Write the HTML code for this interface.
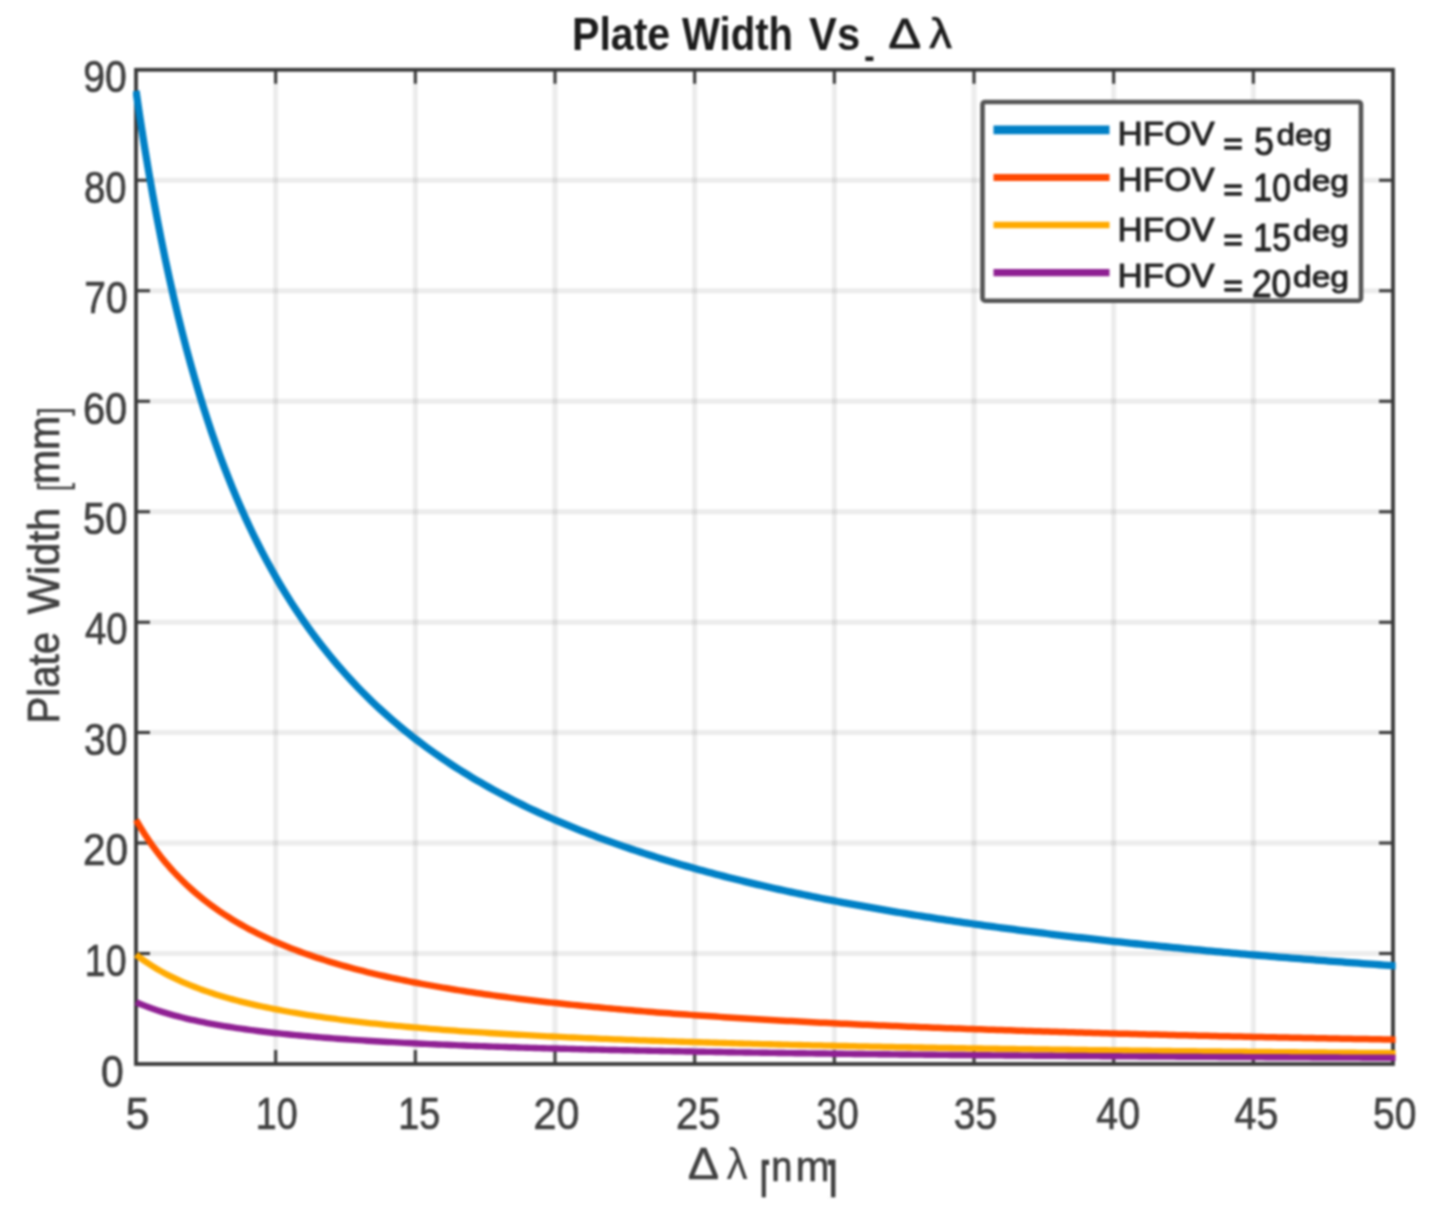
<!DOCTYPE html>
<html lang="en"><head><meta charset="utf-8"><title>Plate Width Vs. Δλ</title>
<style>html,body{margin:0;padding:0;background:#fff}body{width:1437px;height:1216px;overflow:hidden}svg{display:block}</style>
</head><body>
<svg width="1437" height="1216" viewBox="0 0 1437 1216" font-family='"Liberation Sans", sans-serif'>
<defs><filter id="soft" x="-2%" y="-2%" width="104%" height="104%" color-interpolation-filters="sRGB"><feGaussianBlur stdDeviation="0.8"/></filter><clipPath id="ax"><rect x="133.0" y="67.8" width="1262.6" height="998.2"/></clipPath><clipPath id="lg"><rect x="980" y="99" width="383" height="203.2"/></clipPath><clipPath id="xl"><rect x="600" y="1135" width="400" height="62.3"/></clipPath></defs>
<rect width="1437" height="1216" fill="#fff"/>
<g filter="url(#soft)">
<path d="M275.67 69.8V1064.0M415.33 69.8V1064.0M555.00 69.8V1064.0M694.67 69.8V1064.0M834.33 69.8V1064.0M974.00 69.8V1064.0M1113.67 69.8V1064.0M1253.33 69.8V1064.0" stroke="#262626" stroke-opacity="0.085" stroke-width="5" fill="none"/>
<path d="M136.0 953.53H1393.0M136.0 843.07H1393.0M136.0 732.60H1393.0M136.0 622.13H1393.0M136.0 511.67H1393.0M136.0 401.20H1393.0M136.0 290.73H1393.0M136.0 180.27H1393.0" stroke="#262626" stroke-opacity="0.085" stroke-width="5" fill="none"/>
<rect x="136.0" y="69.8" width="1257.0" height="994.2" fill="none" stroke="#3a3a3a" stroke-width="3.8"/>
<path d="M275.67 1064.0v-14M275.67 69.8v14M415.33 1064.0v-14M415.33 69.8v14M555.00 1064.0v-14M555.00 69.8v14M694.67 1064.0v-14M694.67 69.8v14M834.33 1064.0v-14M834.33 69.8v14M974.00 1064.0v-14M974.00 69.8v14M1113.67 1064.0v-14M1113.67 69.8v14M1253.33 1064.0v-14M1253.33 69.8v14M136.0 953.53h14M1393.0 953.53h-14M136.0 843.07h14M1393.0 843.07h-14M136.0 732.60h14M1393.0 732.60h-14M136.0 622.13h14M1393.0 622.13h-14M136.0 511.67h14M1393.0 511.67h-14M136.0 401.20h14M1393.0 401.20h-14M136.0 290.73h14M1393.0 290.73h-14M136.0 180.27h14M1393.0 180.27h-14" stroke="#3a3a3a" stroke-width="3" fill="none"/>
<g clip-path="url(#ax)" fill="none" stroke-linejoin="round" stroke-linecap="butt">
<polyline points="136.00,90.79 140.20,119.18 144.40,145.95 148.60,171.25 152.80,195.19 157.01,217.88 161.21,239.41 165.41,259.87 169.61,279.34 173.81,297.89 178.01,315.58 182.21,332.47 186.41,348.62 190.62,364.06 194.82,378.85 199.02,393.03 203.22,406.63 207.42,419.70 211.62,432.25 215.82,444.32 220.02,455.94 224.22,467.12 228.43,477.91 232.63,488.31 236.83,498.35 241.03,508.04 245.23,517.41 249.43,526.46 253.63,535.22 257.83,543.70 262.04,551.91 266.24,559.86 270.44,567.57 274.64,575.05 278.84,582.30 283.04,589.34 287.24,596.18 291.44,602.83 295.64,609.28 299.85,615.56 304.05,621.67 308.25,627.61 312.45,633.40 316.65,639.03 320.85,644.52 325.05,649.87 329.25,655.08 333.46,660.16 337.66,665.12 341.86,669.95 346.06,674.67 350.26,679.28 354.46,683.78 358.66,688.18 362.86,692.47 367.06,696.67 371.27,700.77 375.47,704.79 379.67,708.71 383.87,712.55 388.07,716.31 392.27,719.99 396.47,723.59 400.67,727.11 404.88,730.56 409.08,733.95 413.28,737.26 417.48,740.51 421.68,743.69 425.88,746.82 430.08,749.88 434.28,752.88 438.48,755.83 442.69,758.72 446.89,761.55 451.09,764.34 455.29,767.07 459.49,769.75 463.69,772.39 467.89,774.98 472.09,777.52 476.30,780.02 480.50,782.47 484.70,784.88 488.90,787.25 493.10,789.59 497.30,791.88 501.50,794.13 505.70,796.35 509.90,798.53 514.11,800.67 518.31,802.78 522.51,804.86 526.71,806.91 530.91,808.92 535.11,810.90 539.31,812.85 543.51,814.77 547.71,816.66 551.92,818.52 556.12,820.35 560.32,822.16 564.52,823.94 568.72,825.69 572.92,827.42 577.12,829.13 581.32,830.80 585.53,832.46 589.73,834.09 593.93,835.70 598.13,837.29 602.33,838.85 606.53,840.39 610.73,841.91 614.93,843.41 619.13,844.90 623.34,846.36 627.54,847.80 631.74,849.22 635.94,850.62 640.14,852.01 644.34,853.38 648.54,854.72 652.74,856.06 656.95,857.37 661.15,858.67 665.35,859.95 669.55,861.22 673.75,862.47 677.95,863.71 682.15,864.93 686.35,866.13 690.55,867.32 694.76,868.50 698.96,869.66 703.16,870.81 707.36,871.94 711.56,873.07 715.76,874.17 719.96,875.27 724.16,876.35 728.37,877.42 732.57,878.48 736.77,879.53 740.97,880.56 745.17,881.59 749.37,882.60 753.57,883.60 757.77,884.59 761.97,885.57 766.18,886.53 770.38,887.49 774.58,888.44 778.78,889.37 782.98,890.30 787.18,891.22 791.38,892.13 795.58,893.02 799.79,893.91 803.99,894.79 808.19,895.66 812.39,896.52 816.59,897.37 820.79,898.22 824.99,899.05 829.19,899.88 833.39,900.70 837.60,901.51 841.80,902.31 846.00,903.10 850.20,903.89 854.40,904.67 858.60,905.44 862.80,906.20 867.00,906.96 871.21,907.71 875.41,908.45 879.61,909.18 883.81,909.91 888.01,910.63 892.21,911.34 896.41,912.05 900.61,912.75 904.81,913.45 909.02,914.14 913.22,914.82 917.42,915.49 921.62,916.16 925.82,916.82 930.02,917.48 934.22,918.13 938.42,918.78 942.63,919.42 946.83,920.05 951.03,920.68 955.23,921.30 959.43,921.92 963.63,922.53 967.83,923.14 972.03,923.74 976.23,924.34 980.44,924.93 984.64,925.52 988.84,926.10 993.04,926.68 997.24,927.25 1001.44,927.81 1005.64,928.38 1009.84,928.93 1014.05,929.49 1018.25,930.04 1022.45,930.58 1026.65,931.12 1030.85,931.65 1035.05,932.19 1039.25,932.71 1043.45,933.23 1047.65,933.75 1051.86,934.27 1056.06,934.78 1060.26,935.28 1064.46,935.78 1068.66,936.28 1072.86,936.78 1077.06,937.27 1081.26,937.75 1085.47,938.24 1089.67,938.71 1093.87,939.19 1098.07,939.66 1102.27,940.13 1106.47,940.59 1110.67,941.06 1114.87,941.51 1119.07,941.97 1123.28,942.42 1127.48,942.87 1131.68,943.31 1135.88,943.75 1140.08,944.19 1144.28,944.62 1148.48,945.05 1152.68,945.48 1156.89,945.91 1161.09,946.33 1165.29,946.75 1169.49,947.16 1173.69,947.58 1177.89,947.99 1182.09,948.39 1186.29,948.80 1190.49,949.20 1194.70,949.60 1198.90,949.99 1203.10,950.39 1207.30,950.78 1211.50,951.17 1215.70,951.55 1219.90,951.93 1224.10,952.31 1228.31,952.69 1232.51,953.06 1236.71,953.44 1240.91,953.81 1245.11,954.17 1249.31,954.54 1253.51,954.90 1257.71,955.26 1261.91,955.62 1266.12,955.97 1270.32,956.32 1274.52,956.67 1278.72,957.02 1282.92,957.37 1287.12,957.71 1291.32,958.05 1295.52,958.39 1299.73,958.73 1303.93,959.06 1308.13,959.40 1312.33,959.73 1316.53,960.05 1320.73,960.38 1324.93,960.70 1329.13,961.03 1333.33,961.35 1337.54,961.66 1341.74,961.98 1345.94,962.29 1350.14,962.61 1354.34,962.92 1358.54,963.23 1362.74,963.53 1366.94,963.84 1371.14,964.14 1375.35,964.44 1379.55,964.74 1383.75,965.04 1387.95,965.33 1392.15,965.63 1396.35,965.92" stroke="#0080c6" stroke-width="7.3"/>
<polyline points="136.00,819.87 140.20,827.00 144.40,833.72 148.60,840.08 152.80,846.09 157.01,851.79 161.21,857.19 165.41,862.33 169.61,867.22 173.81,871.88 178.01,876.32 182.21,880.56 186.41,884.62 190.62,888.50 194.82,892.21 199.02,895.77 203.22,899.19 207.42,902.47 211.62,905.62 215.82,908.65 220.02,911.57 224.22,914.38 228.43,917.09 232.63,919.70 236.83,922.22 241.03,924.66 245.23,927.01 249.43,929.28 253.63,931.48 257.83,933.61 262.04,935.67 266.24,937.67 270.44,939.61 274.64,941.48 278.84,943.31 283.04,945.07 287.24,946.79 291.44,948.46 295.64,950.08 299.85,951.66 304.05,953.19 308.25,954.68 312.45,956.14 316.65,957.55 320.85,958.93 325.05,960.27 329.25,961.58 333.46,962.86 337.66,964.10 341.86,965.32 346.06,966.50 350.26,967.66 354.46,968.79 358.66,969.89 362.86,970.97 367.06,972.03 371.27,973.06 375.47,974.07 379.67,975.05 383.87,976.02 388.07,976.96 392.27,977.88 396.47,978.79 400.67,979.67 404.88,980.54 409.08,981.39 413.28,982.22 417.48,983.04 421.68,983.84 425.88,984.62 430.08,985.39 434.28,986.14 438.48,986.88 442.69,987.61 446.89,988.32 451.09,989.02 455.29,989.71 459.49,990.38 463.69,991.04 467.89,991.69 472.09,992.33 476.30,992.96 480.50,993.58 484.70,994.18 488.90,994.78 493.10,995.36 497.30,995.94 501.50,996.50 505.70,997.06 509.90,997.61 514.11,998.15 518.31,998.68 522.51,999.20 526.71,999.71 530.91,1000.22 535.11,1000.71 539.31,1001.20 543.51,1001.69 547.71,1002.16 551.92,1002.63 556.12,1003.09 560.32,1003.54 564.52,1003.99 568.72,1004.43 572.92,1004.86 577.12,1005.29 581.32,1005.71 585.53,1006.13 589.73,1006.54 593.93,1006.94 598.13,1007.34 602.33,1007.73 606.53,1008.12 610.73,1008.50 614.93,1008.88 619.13,1009.25 623.34,1009.62 627.54,1009.98 631.74,1010.34 635.94,1010.69 640.14,1011.04 644.34,1011.38 648.54,1011.72 652.74,1012.06 656.95,1012.39 661.15,1012.71 665.35,1013.03 669.55,1013.35 673.75,1013.67 677.95,1013.98 682.15,1014.28 686.35,1014.59 690.55,1014.88 694.76,1015.18 698.96,1015.47 703.16,1015.76 707.36,1016.05 711.56,1016.33 715.76,1016.61 719.96,1016.88 724.16,1017.15 728.37,1017.42 732.57,1017.69 736.77,1017.95 740.97,1018.21 745.17,1018.47 749.37,1018.72 753.57,1018.97 757.77,1019.22 761.97,1019.47 766.18,1019.71 770.38,1019.95 774.58,1020.19 778.78,1020.42 782.98,1020.66 787.18,1020.89 791.38,1021.11 795.58,1021.34 799.79,1021.56 803.99,1021.78 808.19,1022.00 812.39,1022.22 816.59,1022.43 820.79,1022.64 824.99,1022.85 829.19,1023.06 833.39,1023.27 837.60,1023.47 841.80,1023.67 846.00,1023.87 850.20,1024.07 854.40,1024.26 858.60,1024.46 862.80,1024.65 867.00,1024.84 871.21,1025.03 875.41,1025.21 879.61,1025.40 883.81,1025.58 888.01,1025.76 892.21,1025.94 896.41,1026.12 900.61,1026.29 904.81,1026.47 909.02,1026.64 913.22,1026.81 917.42,1026.98 921.62,1027.15 925.82,1027.32 930.02,1027.48 934.22,1027.64 938.42,1027.81 942.63,1027.97 946.83,1028.13 951.03,1028.28 955.23,1028.44 959.43,1028.60 963.63,1028.75 967.83,1028.90 972.03,1029.05 976.23,1029.20 980.44,1029.35 984.64,1029.50 988.84,1029.65 993.04,1029.79 997.24,1029.93 1001.44,1030.08 1005.64,1030.22 1009.84,1030.36 1014.05,1030.50 1018.25,1030.63 1022.45,1030.77 1026.65,1030.91 1030.85,1031.04 1035.05,1031.17 1039.25,1031.31 1043.45,1031.44 1047.65,1031.57 1051.86,1031.70 1056.06,1031.82 1060.26,1031.95 1064.46,1032.08 1068.66,1032.20 1072.86,1032.33 1077.06,1032.45 1081.26,1032.57 1085.47,1032.69 1089.67,1032.81 1093.87,1032.93 1098.07,1033.05 1102.27,1033.17 1106.47,1033.29 1110.67,1033.40 1114.87,1033.52 1119.07,1033.63 1123.28,1033.74 1127.48,1033.86 1131.68,1033.97 1135.88,1034.08 1140.08,1034.19 1144.28,1034.30 1148.48,1034.41 1152.68,1034.51 1156.89,1034.62 1161.09,1034.73 1165.29,1034.83 1169.49,1034.94 1173.69,1035.04 1177.89,1035.14 1182.09,1035.24 1186.29,1035.35 1190.49,1035.45 1194.70,1035.55 1198.90,1035.65 1203.10,1035.75 1207.30,1035.84 1211.50,1035.94 1215.70,1036.04 1219.90,1036.13 1224.10,1036.23 1228.31,1036.32 1232.51,1036.42 1236.71,1036.51 1240.91,1036.60 1245.11,1036.70 1249.31,1036.79 1253.51,1036.88 1257.71,1036.97 1261.91,1037.06 1266.12,1037.15 1270.32,1037.24 1274.52,1037.32 1278.72,1037.41 1282.92,1037.50 1287.12,1037.58 1291.32,1037.67 1295.52,1037.76 1299.73,1037.84 1303.93,1037.92 1308.13,1038.01 1312.33,1038.09 1316.53,1038.17 1320.73,1038.25 1324.93,1038.34 1329.13,1038.42 1333.33,1038.50 1337.54,1038.58 1341.74,1038.66 1345.94,1038.74 1350.14,1038.81 1354.34,1038.89 1358.54,1038.97 1362.74,1039.05 1366.94,1039.12 1371.14,1039.20 1375.35,1039.27 1379.55,1039.35 1383.75,1039.42 1387.95,1039.50 1392.15,1039.57 1396.35,1039.65" stroke="#ff4800" stroke-width="6.5"/>
<polyline points="136.00,954.64 140.20,957.83 144.40,960.84 148.60,963.69 152.80,966.38 157.01,968.94 161.21,971.36 165.41,973.66 169.61,975.85 173.81,977.94 178.01,979.93 182.21,981.83 186.41,983.64 190.62,985.38 194.82,987.05 199.02,988.64 203.22,990.17 207.42,991.64 211.62,993.05 215.82,994.41 220.02,995.72 224.22,996.98 228.43,998.19 232.63,999.36 236.83,1000.49 241.03,1001.58 245.23,1002.63 249.43,1003.65 253.63,1004.64 257.83,1005.59 262.04,1006.51 266.24,1007.41 270.44,1008.28 274.64,1009.12 278.84,1009.93 283.04,1010.73 287.24,1011.49 291.44,1012.24 295.64,1012.97 299.85,1013.68 304.05,1014.36 308.25,1015.03 312.45,1015.68 316.65,1016.32 320.85,1016.93 325.05,1017.53 329.25,1018.12 333.46,1018.69 337.66,1019.25 341.86,1019.79 346.06,1020.33 350.26,1020.84 354.46,1021.35 358.66,1021.84 362.86,1022.33 367.06,1022.80 371.27,1023.26 375.47,1023.71 379.67,1024.15 383.87,1024.59 388.07,1025.01 392.27,1025.42 396.47,1025.83 400.67,1026.22 404.88,1026.61 409.08,1026.99 413.28,1027.37 417.48,1027.73 421.68,1028.09 425.88,1028.44 430.08,1028.79 434.28,1029.12 438.48,1029.45 442.69,1029.78 446.89,1030.10 451.09,1030.41 455.29,1030.72 459.49,1031.02 463.69,1031.32 467.89,1031.61 472.09,1031.90 476.30,1032.18 480.50,1032.45 484.70,1032.72 488.90,1032.99 493.10,1033.25 497.30,1033.51 501.50,1033.76 505.70,1034.01 509.90,1034.26 514.11,1034.50 518.31,1034.74 522.51,1034.97 526.71,1035.20 530.91,1035.43 535.11,1035.65 539.31,1035.87 543.51,1036.09 547.71,1036.30 551.92,1036.51 556.12,1036.71 560.32,1036.92 564.52,1037.12 568.72,1037.31 572.92,1037.51 577.12,1037.70 581.32,1037.89 585.53,1038.08 589.73,1038.26 593.93,1038.44 598.13,1038.62 602.33,1038.79 606.53,1038.97 610.73,1039.14 614.93,1039.31 619.13,1039.47 623.34,1039.64 627.54,1039.80 631.74,1039.96 635.94,1040.12 640.14,1040.28 644.34,1040.43 648.54,1040.58 652.74,1040.73 656.95,1040.88 661.15,1041.02 665.35,1041.17 669.55,1041.31 673.75,1041.45 677.95,1041.59 682.15,1041.73 686.35,1041.86 690.55,1042.00 694.76,1042.13 698.96,1042.26 703.16,1042.39 707.36,1042.52 711.56,1042.64 715.76,1042.77 719.96,1042.89 724.16,1043.01 728.37,1043.13 732.57,1043.25 736.77,1043.37 740.97,1043.49 745.17,1043.60 749.37,1043.72 753.57,1043.83 757.77,1043.94 761.97,1044.05 766.18,1044.16 770.38,1044.27 774.58,1044.37 778.78,1044.48 782.98,1044.58 787.18,1044.69 791.38,1044.79 795.58,1044.89 799.79,1044.99 803.99,1045.09 808.19,1045.19 812.39,1045.28 816.59,1045.38 820.79,1045.47 824.99,1045.57 829.19,1045.66 833.39,1045.75 837.60,1045.84 841.80,1045.93 846.00,1046.02 850.20,1046.11 854.40,1046.20 858.60,1046.29 862.80,1046.37 867.00,1046.46 871.21,1046.54 875.41,1046.62 879.61,1046.71 883.81,1046.79 888.01,1046.87 892.21,1046.95 896.41,1047.03 900.61,1047.11 904.81,1047.19 909.02,1047.26 913.22,1047.34 917.42,1047.42 921.62,1047.49 925.82,1047.57 930.02,1047.64 934.22,1047.71 938.42,1047.79 942.63,1047.86 946.83,1047.93 951.03,1048.00 955.23,1048.07 959.43,1048.14 963.63,1048.21 967.83,1048.28 972.03,1048.35 976.23,1048.41 980.44,1048.48 984.64,1048.55 988.84,1048.61 993.04,1048.68 997.24,1048.74 1001.44,1048.80 1005.64,1048.87 1009.84,1048.93 1014.05,1048.99 1018.25,1049.05 1022.45,1049.11 1026.65,1049.18 1030.85,1049.24 1035.05,1049.30 1039.25,1049.35 1043.45,1049.41 1047.65,1049.47 1051.86,1049.53 1056.06,1049.59 1060.26,1049.64 1064.46,1049.70 1068.66,1049.76 1072.86,1049.81 1077.06,1049.87 1081.26,1049.92 1085.47,1049.98 1089.67,1050.03 1093.87,1050.08 1098.07,1050.14 1102.27,1050.19 1106.47,1050.24 1110.67,1050.29 1114.87,1050.34 1119.07,1050.40 1123.28,1050.45 1127.48,1050.50 1131.68,1050.55 1135.88,1050.60 1140.08,1050.65 1144.28,1050.69 1148.48,1050.74 1152.68,1050.79 1156.89,1050.84 1161.09,1050.89 1165.29,1050.93 1169.49,1050.98 1173.69,1051.03 1177.89,1051.07 1182.09,1051.12 1186.29,1051.16 1190.49,1051.21 1194.70,1051.25 1198.90,1051.30 1203.10,1051.34 1207.30,1051.39 1211.50,1051.43 1215.70,1051.47 1219.90,1051.52 1224.10,1051.56 1228.31,1051.60 1232.51,1051.64 1236.71,1051.69 1240.91,1051.73 1245.11,1051.77 1249.31,1051.81 1253.51,1051.85 1257.71,1051.89 1261.91,1051.93 1266.12,1051.97 1270.32,1052.01 1274.52,1052.05 1278.72,1052.09 1282.92,1052.13 1287.12,1052.17 1291.32,1052.21 1295.52,1052.24 1299.73,1052.28 1303.93,1052.32 1308.13,1052.36 1312.33,1052.39 1316.53,1052.43 1320.73,1052.47 1324.93,1052.50 1329.13,1052.54 1333.33,1052.58 1337.54,1052.61 1341.74,1052.65 1345.94,1052.68 1350.14,1052.72 1354.34,1052.75 1358.54,1052.79 1362.74,1052.82 1366.94,1052.86 1371.14,1052.89 1375.35,1052.92 1379.55,1052.96 1383.75,1052.99 1387.95,1053.02 1392.15,1053.06 1396.35,1053.09" stroke="#ffaa00" stroke-width="6.3"/>
<polyline points="136.00,1002.14 140.20,1003.95 144.40,1005.65 148.60,1007.26 152.80,1008.78 157.01,1010.23 161.21,1011.60 165.41,1012.90 169.61,1014.14 173.81,1015.32 178.01,1016.44 182.21,1017.52 186.41,1018.55 190.62,1019.53 194.82,1020.47 199.02,1021.37 203.22,1022.24 207.42,1023.07 211.62,1023.87 215.82,1024.64 220.02,1025.38 224.22,1026.09 228.43,1026.77 232.63,1027.44 236.83,1028.07 241.03,1028.69 245.23,1029.29 249.43,1029.86 253.63,1030.42 257.83,1030.96 262.04,1031.48 266.24,1031.99 270.44,1032.48 274.64,1032.96 278.84,1033.42 283.04,1033.86 287.24,1034.30 291.44,1034.72 295.64,1035.13 299.85,1035.53 304.05,1035.92 308.25,1036.30 312.45,1036.67 316.65,1037.03 320.85,1037.38 325.05,1037.72 329.25,1038.05 333.46,1038.37 337.66,1038.69 341.86,1038.99 346.06,1039.29 350.26,1039.59 354.46,1039.87 358.66,1040.15 362.86,1040.43 367.06,1040.69 371.27,1040.96 375.47,1041.21 379.67,1041.46 383.87,1041.71 388.07,1041.94 392.27,1042.18 396.47,1042.41 400.67,1042.63 404.88,1042.85 409.08,1043.07 413.28,1043.28 417.48,1043.48 421.68,1043.69 425.88,1043.89 430.08,1044.08 434.28,1044.27 438.48,1044.46 442.69,1044.64 446.89,1044.82 451.09,1045.00 455.29,1045.17 459.49,1045.35 463.69,1045.51 467.89,1045.68 472.09,1045.84 476.30,1046.00 480.50,1046.15 484.70,1046.31 488.90,1046.46 493.10,1046.61 497.30,1046.75 501.50,1046.90 505.70,1047.04 509.90,1047.18 514.11,1047.31 518.31,1047.45 522.51,1047.58 526.71,1047.71 530.91,1047.84 535.11,1047.96 539.31,1048.09 543.51,1048.21 547.71,1048.33 551.92,1048.45 556.12,1048.57 560.32,1048.68 564.52,1048.79 568.72,1048.91 572.92,1049.02 577.12,1049.12 581.32,1049.23 585.53,1049.34 589.73,1049.44 593.93,1049.54 598.13,1049.64 602.33,1049.74 606.53,1049.84 610.73,1049.94 614.93,1050.03 619.13,1050.13 623.34,1050.22 627.54,1050.31 631.74,1050.40 635.94,1050.49 640.14,1050.58 644.34,1050.67 648.54,1050.75 652.74,1050.84 656.95,1050.92 661.15,1051.00 665.35,1051.09 669.55,1051.17 673.75,1051.25 677.95,1051.32 682.15,1051.40 686.35,1051.48 690.55,1051.55 694.76,1051.63 698.96,1051.70 703.16,1051.78 707.36,1051.85 711.56,1051.92 715.76,1051.99 719.96,1052.06 724.16,1052.13 728.37,1052.20 732.57,1052.26 736.77,1052.33 740.97,1052.40 745.17,1052.46 749.37,1052.53 753.57,1052.59 757.77,1052.65 761.97,1052.72 766.18,1052.78 770.38,1052.84 774.58,1052.90 778.78,1052.96 782.98,1053.02 787.18,1053.08 791.38,1053.13 795.58,1053.19 799.79,1053.25 803.99,1053.30 808.19,1053.36 812.39,1053.41 816.59,1053.47 820.79,1053.52 824.99,1053.57 829.19,1053.63 833.39,1053.68 837.60,1053.73 841.80,1053.78 846.00,1053.83 850.20,1053.88 854.40,1053.93 858.60,1053.98 862.80,1054.03 867.00,1054.08 871.21,1054.12 875.41,1054.17 879.61,1054.22 883.81,1054.26 888.01,1054.31 892.21,1054.36 896.41,1054.40 900.61,1054.45 904.81,1054.49 909.02,1054.53 913.22,1054.58 917.42,1054.62 921.62,1054.66 925.82,1054.70 930.02,1054.75 934.22,1054.79 938.42,1054.83 942.63,1054.87 946.83,1054.91 951.03,1054.95 955.23,1054.99 959.43,1055.03 963.63,1055.07 967.83,1055.11 972.03,1055.14 976.23,1055.18 980.44,1055.22 984.64,1055.26 988.84,1055.29 993.04,1055.33 997.24,1055.37 1001.44,1055.40 1005.64,1055.44 1009.84,1055.48 1014.05,1055.51 1018.25,1055.55 1022.45,1055.58 1026.65,1055.61 1030.85,1055.65 1035.05,1055.68 1039.25,1055.72 1043.45,1055.75 1047.65,1055.78 1051.86,1055.81 1056.06,1055.85 1060.26,1055.88 1064.46,1055.91 1068.66,1055.94 1072.86,1055.97 1077.06,1056.01 1081.26,1056.04 1085.47,1056.07 1089.67,1056.10 1093.87,1056.13 1098.07,1056.16 1102.27,1056.19 1106.47,1056.22 1110.67,1056.25 1114.87,1056.28 1119.07,1056.30 1123.28,1056.33 1127.48,1056.36 1131.68,1056.39 1135.88,1056.42 1140.08,1056.45 1144.28,1056.47 1148.48,1056.50 1152.68,1056.53 1156.89,1056.56 1161.09,1056.58 1165.29,1056.61 1169.49,1056.64 1173.69,1056.66 1177.89,1056.69 1182.09,1056.71 1186.29,1056.74 1190.49,1056.76 1194.70,1056.79 1198.90,1056.82 1203.10,1056.84 1207.30,1056.87 1211.50,1056.89 1215.70,1056.91 1219.90,1056.94 1224.10,1056.96 1228.31,1056.99 1232.51,1057.01 1236.71,1057.03 1240.91,1057.06 1245.11,1057.08 1249.31,1057.10 1253.51,1057.13 1257.71,1057.15 1261.91,1057.17 1266.12,1057.20 1270.32,1057.22 1274.52,1057.24 1278.72,1057.26 1282.92,1057.28 1287.12,1057.31 1291.32,1057.33 1295.52,1057.35 1299.73,1057.37 1303.93,1057.39 1308.13,1057.41 1312.33,1057.43 1316.53,1057.46 1320.73,1057.48 1324.93,1057.50 1329.13,1057.52 1333.33,1057.54 1337.54,1057.56 1341.74,1057.58 1345.94,1057.60 1350.14,1057.62 1354.34,1057.64 1358.54,1057.66 1362.74,1057.68 1366.94,1057.70 1371.14,1057.72 1375.35,1057.73 1379.55,1057.75 1383.75,1057.77 1387.95,1057.79 1392.15,1057.81 1396.35,1057.83" stroke="#8f2093" stroke-width="6.4"/>
</g>
<rect x="982.5" y="102.0" width="378.5" height="198.7" fill="#fff"/>
<g clip-path="url(#lg)">
<path d="M993.5 129.8H1109.5" stroke="#0080c6" stroke-width="8.8" fill="none"/>
<text x="1117.50" y="144.80" font-size="33" fill="#242424" stroke="#242424" stroke-width="1.0" stroke-linejoin="round" textLength="97.21" lengthAdjust="spacingAndGlyphs">HFOV</text>
<text x="1223.43" y="154.20" font-size="30" fill="#242424" stroke="#242424" stroke-width="1.6" stroke-linejoin="round" textLength="19.13" lengthAdjust="spacingAndGlyphs">=</text>
<text x="1254.34" y="155.10" font-size="38" fill="#242424" stroke="#242424" stroke-width="1.0" stroke-linejoin="round" textLength="19.66" lengthAdjust="spacingAndGlyphs">5</text>
<text x="1276.49" y="144.50" font-size="30" fill="#242424" stroke="#242424" stroke-width="1.0" stroke-linejoin="round" textLength="55.42" lengthAdjust="spacingAndGlyphs">deg</text>
<path d="M993.5 177.4H1109.5" stroke="#ff4800" stroke-width="7.0" fill="none"/>
<text x="1117.50" y="191.00" font-size="33" fill="#242424" stroke="#242424" stroke-width="1.0" stroke-linejoin="round" textLength="97.21" lengthAdjust="spacingAndGlyphs">HFOV</text>
<text x="1223.43" y="200.40" font-size="30" fill="#242424" stroke="#242424" stroke-width="1.6" stroke-linejoin="round" textLength="19.13" lengthAdjust="spacingAndGlyphs">=</text>
<text x="1253.32" y="201.30" font-size="38" fill="#242424" stroke="#242424" stroke-width="1.0" stroke-linejoin="round" textLength="37.68" lengthAdjust="spacingAndGlyphs">10</text>
<text x="1293.00" y="190.70" font-size="30" fill="#242424" stroke="#242424" stroke-width="1.0" stroke-linejoin="round" textLength="56.04" lengthAdjust="spacingAndGlyphs">deg</text>
<path d="M993.5 225.0H1109.5" stroke="#ffaa00" stroke-width="6.6" fill="none"/>
<text x="1117.50" y="240.80" font-size="33" fill="#242424" stroke="#242424" stroke-width="1.0" stroke-linejoin="round" textLength="97.21" lengthAdjust="spacingAndGlyphs">HFOV</text>
<text x="1223.43" y="250.20" font-size="30" fill="#242424" stroke="#242424" stroke-width="1.6" stroke-linejoin="round" textLength="19.13" lengthAdjust="spacingAndGlyphs">=</text>
<text x="1253.31" y="251.10" font-size="38" fill="#242424" stroke="#242424" stroke-width="1.0" stroke-linejoin="round" textLength="37.91" lengthAdjust="spacingAndGlyphs">15</text>
<text x="1293.00" y="240.50" font-size="30" fill="#242424" stroke="#242424" stroke-width="1.0" stroke-linejoin="round" textLength="56.04" lengthAdjust="spacingAndGlyphs">deg</text>
<path d="M993.5 272.6H1109.5" stroke="#8f2093" stroke-width="7.2" fill="none"/>
<text x="1117.50" y="287.00" font-size="33" fill="#242424" stroke="#242424" stroke-width="1.0" stroke-linejoin="round" textLength="97.21" lengthAdjust="spacingAndGlyphs">HFOV</text>
<text x="1223.43" y="296.40" font-size="30" fill="#242424" stroke="#242424" stroke-width="1.6" stroke-linejoin="round" textLength="19.13" lengthAdjust="spacingAndGlyphs">=</text>
<text x="1252.00" y="297.30" font-size="38" fill="#242424" stroke="#242424" stroke-width="1.0" stroke-linejoin="round" textLength="39.22" lengthAdjust="spacingAndGlyphs">20</text>
<text x="1293.00" y="286.70" font-size="30" fill="#242424" stroke="#242424" stroke-width="1.0" stroke-linejoin="round" textLength="56.04" lengthAdjust="spacingAndGlyphs">deg</text>
</g>
<rect x="982.5" y="102.0" width="378.5" height="198.7" fill="none" stroke="#545454" stroke-width="4.6" rx="2.5"/>
<text x="101.10" y="1087.10" font-size="44" fill="#404040" stroke="#404040" stroke-width="0.7" textLength="22.72" lengthAdjust="spacingAndGlyphs">0</text>
<text x="84.84" y="975.83" font-size="44" fill="#404040" stroke="#404040" stroke-width="0.7" textLength="41.73" lengthAdjust="spacingAndGlyphs">10</text>
<text x="82.89" y="865.37" font-size="44" fill="#404040" stroke="#404040" stroke-width="0.7" textLength="45.12" lengthAdjust="spacingAndGlyphs">20</text>
<text x="84.12" y="754.90" font-size="44" fill="#404040" stroke="#404040" stroke-width="0.7" textLength="43.46" lengthAdjust="spacingAndGlyphs">30</text>
<text x="84.88" y="644.43" font-size="44" fill="#404040" stroke="#404040" stroke-width="0.7" textLength="42.70" lengthAdjust="spacingAndGlyphs">40</text>
<text x="83.12" y="533.97" font-size="44" fill="#404040" stroke="#404040" stroke-width="0.7" textLength="44.47" lengthAdjust="spacingAndGlyphs">50</text>
<text x="82.91" y="423.50" font-size="44" fill="#404040" stroke="#404040" stroke-width="0.7" textLength="44.29" lengthAdjust="spacingAndGlyphs">60</text>
<text x="84.34" y="313.03" font-size="44" fill="#404040" stroke="#404040" stroke-width="0.7" textLength="43.27" lengthAdjust="spacingAndGlyphs">70</text>
<text x="84.04" y="202.57" font-size="44" fill="#404040" stroke="#404040" stroke-width="0.7" textLength="42.55" lengthAdjust="spacingAndGlyphs">80</text>
<text x="83.32" y="92.10" font-size="44" fill="#404040" stroke="#404040" stroke-width="0.7" textLength="43.48" lengthAdjust="spacingAndGlyphs">90</text>
<text x="125.70" y="1129.30" font-size="44" fill="#404040" stroke="#404040" stroke-width="0.7" textLength="23.56" lengthAdjust="spacingAndGlyphs">5</text>
<text x="255.84" y="1129.30" font-size="44" fill="#404040" stroke="#404040" stroke-width="0.7" textLength="41.89" lengthAdjust="spacingAndGlyphs">10</text>
<text x="398.26" y="1129.30" font-size="44" fill="#404040" stroke="#404040" stroke-width="0.7" textLength="41.96" lengthAdjust="spacingAndGlyphs">15</text>
<text x="533.48" y="1129.30" font-size="44" fill="#404040" stroke="#404040" stroke-width="0.7" textLength="45.86" lengthAdjust="spacingAndGlyphs">20</text>
<text x="675.98" y="1129.30" font-size="44" fill="#404040" stroke="#404040" stroke-width="0.7" textLength="44.57" lengthAdjust="spacingAndGlyphs">25</text>
<text x="816.15" y="1129.30" font-size="44" fill="#404040" stroke="#404040" stroke-width="0.7" textLength="42.48" lengthAdjust="spacingAndGlyphs">30</text>
<text x="953.83" y="1129.30" font-size="44" fill="#404040" stroke="#404040" stroke-width="0.7" textLength="43.56" lengthAdjust="spacingAndGlyphs">35</text>
<text x="1096.35" y="1129.30" font-size="44" fill="#404040" stroke="#404040" stroke-width="0.7" textLength="43.70" lengthAdjust="spacingAndGlyphs">40</text>
<text x="1234.59" y="1129.30" font-size="44" fill="#404040" stroke="#404040" stroke-width="0.7" textLength="43.73" lengthAdjust="spacingAndGlyphs">45</text>
<text x="1373.06" y="1129.30" font-size="44" fill="#404040" stroke="#404040" stroke-width="0.7" textLength="43.37" lengthAdjust="spacingAndGlyphs">50</text>
<text x="571.99" y="50.10" font-size="46.5" fill="#1c1c1c" font-weight="bold" textLength="98.22" lengthAdjust="spacingAndGlyphs">Plate</text>
<text x="682.00" y="50.10" font-size="46.5" fill="#1c1c1c" font-weight="bold" textLength="111.00" lengthAdjust="spacingAndGlyphs">Width</text>
<text x="809.09" y="50.10" font-size="46.5" fill="#1c1c1c" font-weight="bold" textLength="51.11" lengthAdjust="spacingAndGlyphs">Vs</text>
<text transform="translate(861.6 61.4) scale(1.9 1)" font-size="30" font-weight="bold" fill="#1c1c1c">.</text>
<text x="888.45" y="47.90" font-size="42" fill="#1c1c1c" stroke="#1c1c1c" stroke-width="0.9" textLength="32.55" lengthAdjust="spacingAndGlyphs">Δ</text>
<text x="929.38" y="47.90" font-size="42" fill="#1c1c1c" stroke="#1c1c1c" stroke-width="0.7" textLength="22.66" lengthAdjust="spacingAndGlyphs">λ</text>
<text x="687.85" y="1178.80" font-size="44" fill="#404040" stroke="#404040" stroke-width="0.5" textLength="31.39" lengthAdjust="spacingAndGlyphs">Δ</text>
<text x="726.51" y="1178.80" font-size="44" fill="#404040"  textLength="21.23" lengthAdjust="spacingAndGlyphs">λ</text>
<text x="760.60" y="1192.60" font-size="44" fill="#404040" stroke="#404040" stroke-width="2.6" clip-path="url(#xl)" textLength="8.00" lengthAdjust="spacingAndGlyphs">[</text>
<text x="771.29" y="1181.20" font-size="42" fill="#404040" stroke="#404040" stroke-width="0.7" textLength="21.17" lengthAdjust="spacingAndGlyphs">n</text>
<text x="795.85" y="1181.20" font-size="42" fill="#404040" stroke="#404040" stroke-width="0.7" textLength="33.71" lengthAdjust="spacingAndGlyphs">m</text>
<text x="828.60" y="1192.60" font-size="44" fill="#404040" stroke="#404040" stroke-width="3.0" clip-path="url(#xl)" textLength="8.00" lengthAdjust="spacingAndGlyphs">]</text>
<text transform="translate(59.30 723.39) rotate(-90)" font-size="44" fill="#404040" stroke="#404040" stroke-width="0.7" textLength="91.39" lengthAdjust="spacingAndGlyphs">Plate</text>
<text transform="translate(59.30 614.21) rotate(-90)" font-size="44" fill="#404040" stroke="#404040" stroke-width="0.7" textLength="106.39" lengthAdjust="spacingAndGlyphs">Width</text>
<text transform="translate(66.60 491.54) rotate(-90)" font-size="41" fill="#404040"  textLength="8.67" lengthAdjust="spacingAndGlyphs">[</text>
<text transform="translate(59.30 484.08) rotate(-90)" font-size="44" fill="#404040" stroke="#404040" stroke-width="0.7" textLength="68.13" lengthAdjust="spacingAndGlyphs">mm</text>
<text transform="translate(66.60 416.09) rotate(-90)" font-size="41" fill="#404040"  textLength="9.09" lengthAdjust="spacingAndGlyphs">]</text>
</g>
</svg>
</body></html>
